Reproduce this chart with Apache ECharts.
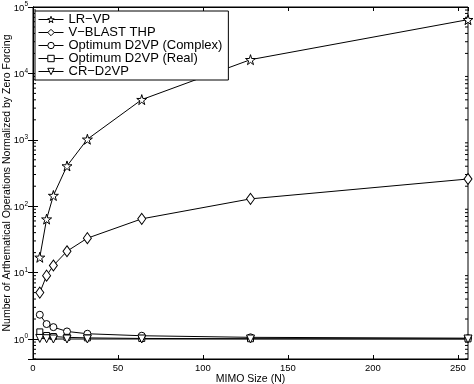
<!DOCTYPE html>
<html>
<head>
<meta charset="utf-8">
<script src="https://cdn.jsdelivr.net/npm/echarts@6/dist/echarts.min.js"></script>
<style>
html,body{margin:0;padding:0;background:#fff;}
#chart{width:474px;height:384px;}
</style>
</head>
<body>
<div id="chart"></div>
<script>
// ---- data ----
var mimoSizes = [4, 8, 12, 20, 32, 64, 128, 256];
var lrVP       = [17, 64, 145, 404, 1020, 4030, 16100, 64500];
var vblastTHP  = [5, 9, 12.8, 21, 33, 64.5, 129, 257];
var d2vpComplex= [2.32, 1.68, 1.51, 1.30, 1.20, 1.12, 1.06, 1.03];
var d2vpReal   = [1.28, 1.13, 1.09, 1.06, 1.04, 1.02, 1.01, 1.005];
var crD2VP     = [1.02, 1.01, 1.0, 1.0, 1.0, 1.0, 1.0, 1.0];
var seriesNames = ['LR\u2212VP', 'V\u2212BLAST THP', 'Optimum D2VP (Complex)', 'Optimum D2VP (Real)', 'CR\u2212D2VP'];
var xTickLabels = ['0', '50', '100', '150', '200', '250'];
var yTickExponents = [0, 1, 2, 3, 4, 5];
var minorMantissas = [2, 3, 4, 5, 6, 7, 8, 9];

var FONT = 'Liberation Sans, Arial, Helvetica, sans-serif';
var STAR = 'path://M50,0 L61,35 L98,35 L68,57 L79,91 L50,70 L21,91 L32,57 L2,35 L39,35 Z';

function pairs(vals){ return mimoSizes.map(function(x,i){ return [x, vals[i]]; }); }

var minorTicks = [];
for (var e = -1; e < 5; e++) {
  minorMantissas.forEach(function(m){
    var v = m * Math.pow(10, e);
    if (v >= 0.5 && v <= 1e5) minorTicks.push([0, v]);
  });
}

function mkSeries(name, vals, symbol, size, rot){
  return {
    name: name, type: 'line', data: pairs(vals),
    symbol: symbol, symbolSize: size, symbolRotate: rot || 0,
    showAllSymbol: true,
    color: '#000',
    lineStyle: {color: '#000', width: 1},
    itemStyle: {color: '#fff', borderColor: '#000', borderWidth: 1},
    emphasis: {disabled: true},
    z: 3
  };
}

var chart = echarts.init(document.getElementById('chart'), null, {renderer: 'canvas'});
var grid = {left: 33, right: 6, top: 7, bottom: 25, show: true, borderColor: '#000', borderWidth: 1,
  backgroundColor: '#fff', containLabel: false, outerBoundsMode: 'none'};

var yLabelFmt = function(v){
  var lg = Math.log10(v);
  var ex = Math.round(lg);
  if (Math.abs(lg - ex) > 1e-6) return '';
  if (yTickExponents.indexOf(ex) < 0) return '';
  return '{b|10}{s|' + ex + '}';
};

var option = {
  animation: false,
  textStyle: {fontFamily: FONT},
  grid: grid,
  legend: {
    data: seriesNames,
    orient: 'vertical',
    left: 35, top: 11,
    padding: [2, 6, 2, 3],
    itemWidth: 25, itemHeight: 8, itemGap: 0, itemTextGap: 9,
    borderColor: '#000', borderWidth: 1,
    backgroundColor: '#fff',
    itemStyle: {color: '#fff', borderColor: '#000', borderWidth: 1},
    lineStyle: {color: '#000', width: 1},
    textStyle: {fontSize: 13, lineHeight: 13, color: '#000', fontFamily: FONT},
    selectedMode: false
  },
  xAxis: [{
    type: 'value', min: 0, max: 256, interval: 50, position: 'bottom',
    name: 'MIMO Size (N)', nameLocation: 'middle', nameGap: 15, nameMoveOverlap: false,
    nameTextStyle: {fontSize: 10.5, color: '#000', fontFamily: FONT},
    axisLine: {show: true, lineStyle: {color: '#000', width: 1}},
    axisTick: {show: true, inside: true, length: 4, lineStyle: {color: '#000'}},
    axisLabel: {fontSize: 9.5, color: '#000', margin: 4, showMaxLabel: false,
      formatter: function(v){ var i = v/50; return (i === Math.round(i) && xTickLabels[i] !== undefined) ? xTickLabels[i] : ''; }},
    splitLine: {show: false}
  }, {
    type: 'value', min: 0, max: 256, interval: 50, position: 'top',
    axisLine: {show: true, lineStyle: {color: '#000', width: 1}},
    axisTick: {show: true, inside: true, length: 4, lineStyle: {color: '#000'}},
    axisLabel: {show: false}, splitLine: {show: false}
  }],
  yAxis: [{
    type: 'log', logBase: 10, min: 0.5, max: 100000, position: 'left',
    name: 'Number of Arthematical Operations Normalized by Zero Forcing',
    nameLocation: 'middle', nameRotate: 90, nameGap: 20, nameMoveOverlap: false,
    nameTextStyle: {fontSize: 10.5, color: '#000', fontFamily: FONT},
    axisLine: {show: true, lineStyle: {color: '#000', width: 1}},
    axisTick: {show: true, inside: true, length: 5, lineStyle: {color: '#000'}},
    axisLabel: {color: '#000', margin: 5, formatter: yLabelFmt,
      rich: {b: {fontSize: 9.5, color: '#000', fontFamily: FONT, verticalAlign: 'bottom', lineHeight: 12},
             s: {fontSize: 6.5, color: '#000', fontFamily: FONT, verticalAlign: 'top', lineHeight: 12, padding: [0,0,5,0]}}},
    splitLine: {show: false}
  }, {
    type: 'log', logBase: 10, min: 0.5, max: 100000, position: 'right',
    axisLine: {show: true, lineStyle: {color: '#000', width: 1}},
    axisTick: {show: true, inside: true, length: 5, lineStyle: {color: '#000'}},
    axisLabel: {show: false}, splitLine: {show: false}
  }],
  series: [
    mkSeries(seriesNames[0], lrVP, STAR, 10),
    mkSeries(seriesNames[1], vblastTHP, 'diamond', [8, 11]),
    mkSeries(seriesNames[2], d2vpComplex, 'circle', 7),
    mkSeries(seriesNames[3], d2vpReal, 'rect', 6),
    mkSeries(seriesNames[4], crD2VP, 'triangle', 8, 180),
    {
      type: 'custom', silent: true, data: minorTicks, z: 2,
      renderItem: function(params, api){
        var v = api.value(1);
        var l = api.coord([0, v]);
        var r = api.coord([256, v]);
        return {type: 'group', children: [
          {type: 'line', shape: {x1: l[0], y1: l[1], x2: l[0] + 3, y2: l[1]}, style: {stroke: '#000', lineWidth: 1}},
          {type: 'line', shape: {x1: r[0] - 3, y1: r[1], x2: r[0], y2: r[1]}, style: {stroke: '#000', lineWidth: 1}}
        ]};
      }
    }
  ]
};
chart.setOption(option);
</script>
</body>
</html>
